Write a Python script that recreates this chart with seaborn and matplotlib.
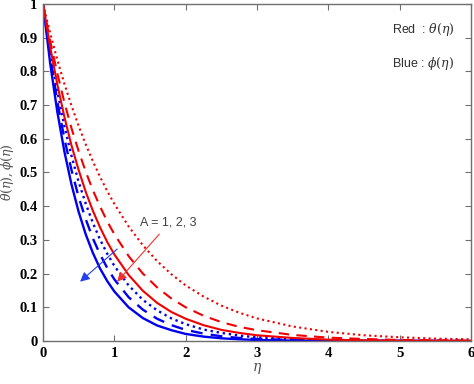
import numpy as np
import pandas as pd
import matplotlib
matplotlib.use('Agg')
import matplotlib.pyplot as plt
import seaborn as sns

# eta grid
eta = [0, 0.1, 0.2, 0.3, 0.4, 0.5, 0.6, 0.7, 0.8, 0.9, 1.0, 1.2, 1.4, 1.6, 1.8,
       2.0, 2.25, 2.5, 2.75, 3.0, 3.5, 4.0, 4.5, 5.0, 5.5, 6.0]

# theta(eta), red curves, A = 1, 2, 3
theta_A1 = [1, 0.873, 0.762, 0.665, 0.580, 0.507, 0.442, 0.386, 0.337, 0.294, 0.257,
            0.196, 0.149, 0.113, 0.086, 0.066, 0.047, 0.033, 0.024, 0.017, 0.009,
            0.004, 0.002, 0.001, 0.0006, 0.0003]
theta_A2 = [1, 0.891, 0.795, 0.708, 0.631, 0.563, 0.502, 0.447, 0.399, 0.355, 0.317,
            0.252, 0.200, 0.159, 0.126, 0.100, 0.075, 0.056, 0.042, 0.032, 0.018,
            0.010, 0.006, 0.003, 0.002, 0.001]
theta_A3 = [1, 0.914, 0.835, 0.763, 0.698, 0.638, 0.583, 0.533, 0.487, 0.445, 0.407,
            0.340, 0.284, 0.237, 0.198, 0.165, 0.132, 0.105, 0.084, 0.067, 0.043,
            0.027, 0.017, 0.011, 0.007, 0.005]

# phi(eta), blue curves, A = 1, 2, 3
phi_A1 = [1, 0.825, 0.681, 0.562, 0.464, 0.383, 0.316, 0.261, 0.215, 0.178, 0.147,
          0.100, 0.068, 0.046, 0.032, 0.021, 0.013, 0.008, 0.005, 0.003, 0.001,
          0.0005, 0.0002, 0.0001, 0.0, 0.0]
phi_A2 = [1, 0.844, 0.712, 0.600, 0.507, 0.427, 0.361, 0.304, 0.257, 0.217, 0.183,
          0.130, 0.093, 0.066, 0.047, 0.033, 0.022, 0.014, 0.009, 0.006, 0.003,
          0.001, 0.0005, 0.0002, 0.0001, 0.0]
phi_A3 = [1, 0.861, 0.741, 0.638, 0.549, 0.472, 0.407, 0.350, 0.301, 0.259, 0.223,
          0.165, 0.122, 0.091, 0.067, 0.050, 0.034, 0.024, 0.016, 0.011, 0.005,
          0.002, 0.001, 0.0006, 0.0003, 0.0001]

x_ticks = [0, 1, 2, 3, 4, 5, 6]
y_ticks = [0, 0.1, 0.2, 0.3, 0.4, 0.5, 0.6, 0.7, 0.8, 0.9, 1]
y_ticklabels = ['0', '0.1', '0.2', '0.3', '0.4', '0.5', '0.6', '0.7', '0.8', '0.9', '1']

sns.set_style('ticks')
plt.rcParams['mathtext.fontset'] = 'dejavuserif'

fig = plt.figure(figsize=(4.74, 3.84), dpi=100)
ax = fig.add_axes([0.0907, 0.112, 0.903, 0.8776])

red = '#f00000'
blue = '#0000f0'
styles = [(0, ()), (0, (5, 3.5)), (0, (1, 1.6))]
for ys, ls in zip([phi_A1, phi_A2, phi_A3], styles):
    sns.lineplot(x=eta, y=ys, color=blue, linestyle=ls, lw=1.7, ax=ax)
for ys, ls in zip([theta_A1, theta_A2, theta_A3], styles):
    sns.lineplot(x=eta, y=ys, color=red, linestyle=ls, lw=1.5, ax=ax)

ax.set_xlim(0, 6)
ax.set_ylim(0, 1)
ax.set_xticks(x_ticks)
ax.set_yticks(y_ticks)
ax.set_yticklabels(y_ticklabels)
for lab in ax.get_xticklabels() + ax.get_yticklabels():
    lab.set_fontfamily('Liberation Serif')
    lab.set_fontweight('bold')
    lab.set_fontsize(10.5)
    lab.set_color('black')
ax.tick_params(direction='in', top=True, right=True, length=4, width=0.8,
               color='#707070', pad=4)
for sp in ax.spines.values():
    sp.set_visible(True)
    sp.set_color('#707070')
    sp.set_linewidth(1.0)

ax.set_xlabel(r'$\eta$', fontsize=10, color='#505050', labelpad=1)
ax.set_ylabel(r'$\theta(\eta),\phi(\eta)$', fontsize=9, color='#505050', labelpad=2)

# legend-like notes
ax.text(4.89, 0.923, r'Red  : $\theta(\eta)$', fontsize=9, color='#303030',
        family='Liberation Sans', va='center')
ax.text(4.89, 0.822, r'Blue : $\phi(\eta)$', fontsize=9, color='#303030',
        family='Liberation Sans', va='center')

ax.text(1.36, 0.351, 'A = 1, 2, 3', fontsize=9, color='#404040',
        family='Liberation Sans', va='center')
ax.annotate('', xy=(1.04, 0.176), xytext=(1.63, 0.317),
            arrowprops=dict(arrowstyle='-|>', color='#f03030', lw=0.8,
                            mutation_scale=14, shrinkA=0, shrinkB=0))
ax.annotate('', xy=(0.52, 0.176), xytext=(1.04, 0.273),
            arrowprops=dict(arrowstyle='-|>', color='#2040f0', lw=0.8,
                            mutation_scale=14, shrinkA=0, shrinkB=0))

fig.savefig('out.png', dpi=100)
